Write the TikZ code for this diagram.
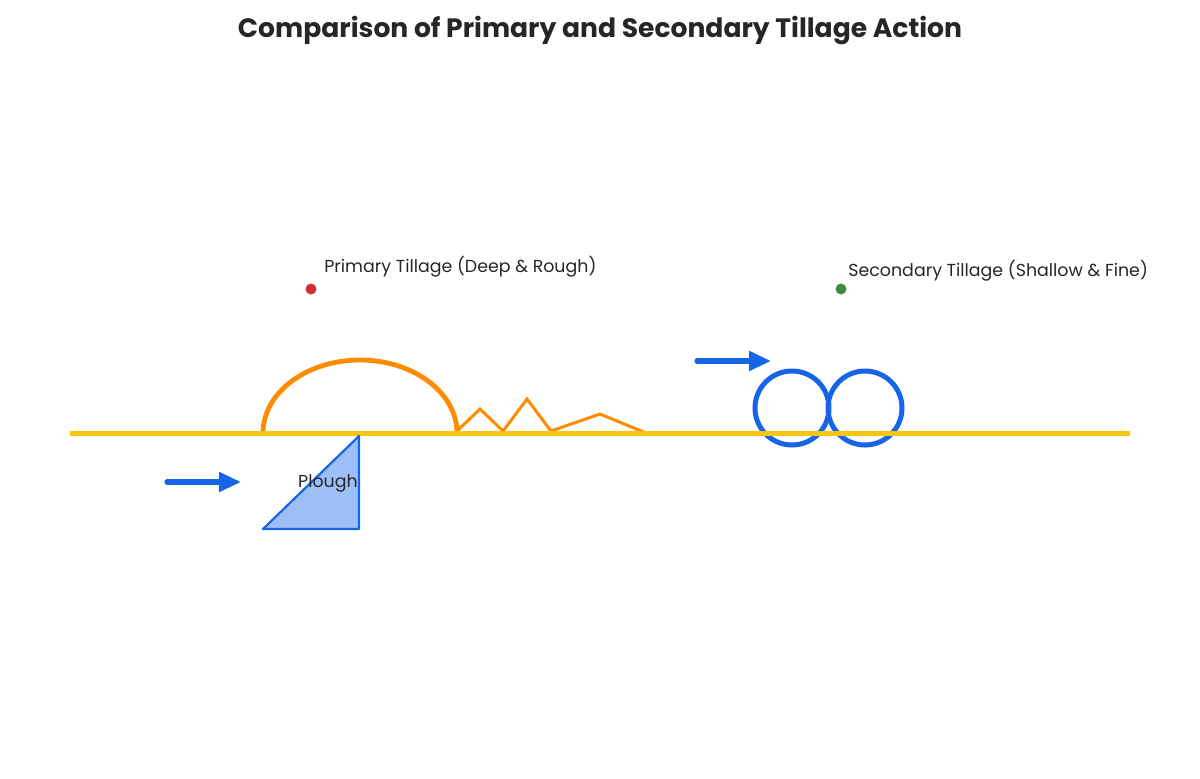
\documentclass[tikz,border=0pt]{standalone}
\usepackage{fontspec}
\setmainfont{Poppins}
\usetikzlibrary{arrows.meta}
\definecolor{soilyellow}{HTML}{F7C615}
\definecolor{clodorange}{HTML}{FF8C00}
\definecolor{toolblue}{HTML}{1565E6}
\definecolor{toolfill}{HTML}{9DBFF6}
\definecolor{dotred}{HTML}{D03030}
\definecolor{dotgreen}{HTML}{3E8E3E}
\begin{document}
\begin{tikzpicture}[
                x = 0.5pt, y = -0.5pt,
                soil/.style = {draw = soilyellow, line width = 2.5pt},
                clod/.style = {draw = clodorange, line width = 2.4pt},
                crumb/.style = {draw = clodorange, line width = 1.5pt},
                plough/.style = {draw = toolblue, fill = toolfill, line width = 1.1pt, line join = round},
                roller/.style = {draw = toolblue, line width = 2.5pt},
                move/.style = {draw = toolblue, line width = 2.6pt, line cap = round, -{Triangle[length = 11pt, width = 9.5pt]}},
                dot/.style = {circle, inner sep = 0pt, minimum size = 5.5pt},
                lbl/.style = {font = \fontsize{8.7}{10}\selectfont, text = black!85, inner sep = 0pt},
            ]
            \useasboundingbox (0,0) rectangle (1200,778);
            \node (T) [font = \bfseries\fontsize{13.3}{16}\selectfont, text = black!85] at (600,30) {Comparison of Primary and Secondary Tillage Action};

            % legend dots
            \node (DP) [dot, fill = dotred] at (311,289) {};
            \node (LP) [lbl, anchor = west] at (324,267) {Primary Tillage (Deep \& Rough)};
            \node (DS) [dot, fill = dotgreen] at (841,289) {};
            \node (LS) [lbl, anchor = west] at (848,271) {Secondary Tillage (Shallow \& Fine)};

            % ground
            \coordinate (G1) at (70,433);
            \coordinate (G2) at (1130,433);

            % big clod and crumbs
            \path[clod] (263,433) arc[start angle = 180, end angle = 0, x radius = 97, y radius = -73];
            \path[crumb] (457,431) -- (480,409) -- (503,431) -- (527,399) -- (551,431) -- (600,414) -- (646,433);

            % rollers
            \node (R1) [roller, circle, minimum size = 37pt, inner sep = 0pt] at (792,408) {};
            \node (R2) [roller, circle, minimum size = 37pt, inner sep = 0pt] at (865,408) {};

            \path[soil] (G1) -- (G2);

            % plough
            \path[plough] (263,529) -- (359,436) -- (359,529) -- cycle;
            \node (PL) [lbl] at (328,483) {Plough};

            % direction arrows
            \coordinate (A1) at (167,482);
            \coordinate (B1) at (241,482);
            \coordinate (A2) at (697,361);
            \coordinate (B2) at (771,361);
            \path[move] (A1) -- (B1);
            \path[move] (A2) -- (B2);
        \end{tikzpicture}
\end{document}
